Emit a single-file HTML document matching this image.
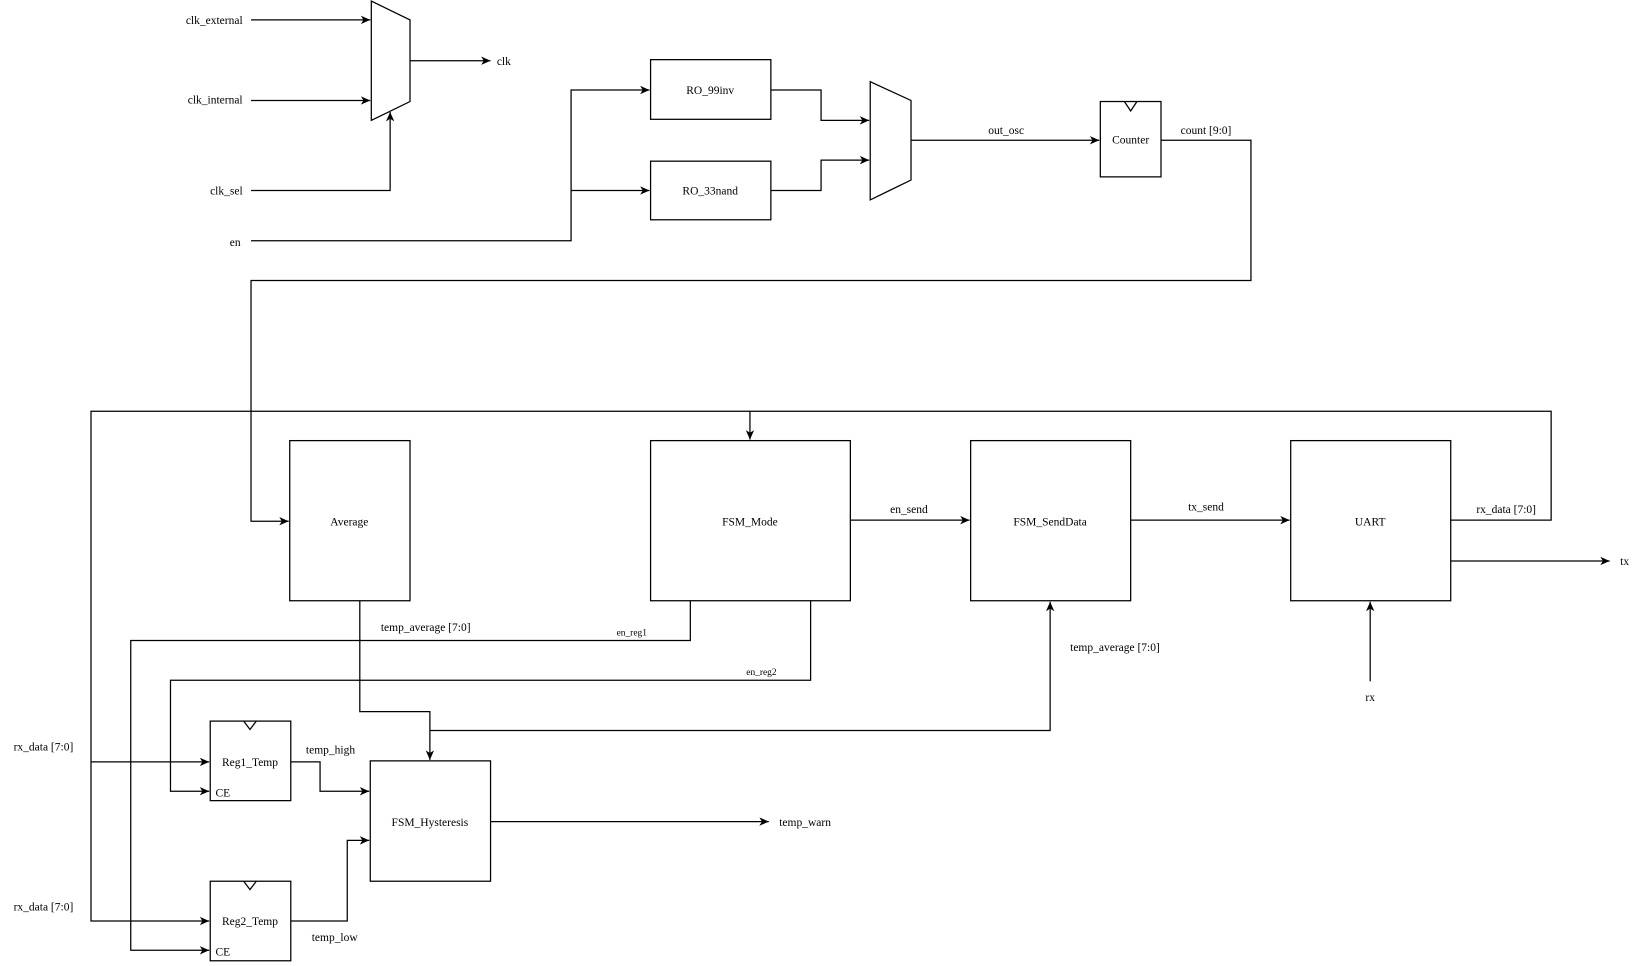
<!DOCTYPE html>
<html><head><meta charset="utf-8"><style>
html,body{margin:0;padding:0;background:#fff;}
svg{display:block;}
text{font-family:"Liberation Serif","Times New Roman",serif;font-size:11px;fill:#000;}
.s{font-size:9px;}
</style></head><body>
<svg width="1639" height="966" viewBox="0 0 1567 923" preserveAspectRatio="none" xmlns="http://www.w3.org/2000/svg">
<defs>
<marker id="a" markerWidth="10" markerHeight="8" refX="9" refY="4" orient="auto" markerUnits="userSpaceOnUse">
<path d="M0,0 L9,4 L0,8 L2.5,4 Z" fill="#000"/></marker>
</defs>
<g fill="none" stroke="#000" stroke-width="1.2">
<polygon points="355,1 392,19 392,97 355,115" fill="#fff"/>
<path d="M240,19H354" marker-end="url(#a)"/>
<path d="M240,96H354" marker-end="url(#a)"/>
<path d="M240,182H373V107" marker-end="url(#a)"/>
<path d="M392,58H469" marker-end="url(#a)"/>
<path d="M240,230H546V86H621" marker-end="url(#a)"/>
<path d="M546,182H621" marker-end="url(#a)"/>
<rect x="622" y="57" width="115" height="57" fill="#fff"/>
<rect x="622" y="154" width="115" height="56" fill="#fff"/>
<path d="M737,86H785V115H831" marker-end="url(#a)"/>
<path d="M737,182H785V153H831" marker-end="url(#a)"/>
<polygon points="832,78 871,96 871,172 832,191" fill="#fff"/>
<path d="M871,134H1051" marker-end="url(#a)"/>
<rect x="1052" y="97" width="58" height="72" fill="#fff"/>
<path d="M1075,97L1081,106L1087,97"/>
<path d="M1110,134H1196V268H240V498H276" marker-end="url(#a)"/>
<path d="M1387,497H1483V393H87V880H200" marker-end="url(#a)"/>
<path d="M717,393V420" marker-end="url(#a)"/>
<path d="M87,728H200" marker-end="url(#a)"/>
<rect x="277" y="421" width="115" height="153" fill="#fff"/>
<rect x="622" y="421" width="191" height="153" fill="#fff"/>
<rect x="928" y="421" width="153" height="153" fill="#fff"/>
<rect x="1234" y="421" width="153" height="153" fill="#fff"/>
<path d="M813,497H927" marker-end="url(#a)"/>
<path d="M1081,497H1233" marker-end="url(#a)"/>
<path d="M1387,536H1539" marker-end="url(#a)"/>
<path d="M1310,651V575" marker-end="url(#a)"/>
<path d="M344,574V680H411V726" marker-end="url(#a)"/>
<path d="M411,698H1004V575" marker-end="url(#a)"/>
<path d="M660,574V612H125V908H200" marker-end="url(#a)"/>
<path d="M775,574V650H163V756H200" marker-end="url(#a)"/>
<rect x="201" y="689" width="77" height="76" fill="#fff"/>
<path d="M233,689L239,697L245,689"/>
<rect x="201" y="842" width="77" height="76" fill="#fff"/>
<path d="M233,842L239,850L245,842"/>
<path d="M278,728H306V756H353" marker-end="url(#a)"/>
<path d="M278,880H332V803H353" marker-end="url(#a)"/>
<rect x="354" y="727" width="115" height="115" fill="#fff"/>
<path d="M469,785H735" marker-end="url(#a)"/>
</g>
<g>
<text x="232" y="23" text-anchor="end">clk_external</text>
<text x="232" y="99" text-anchor="end">clk_internal</text>
<text x="232" y="186" text-anchor="end">clk_sel</text>
<text x="230" y="235" text-anchor="end">en</text>
<text x="475" y="62">clk</text>
<text x="679" y="90" text-anchor="middle">RO_99inv</text>
<text x="679" y="186" text-anchor="middle">RO_33nand</text>
<text x="962" y="128" text-anchor="middle">out_osc</text>
<text x="1081" y="137" text-anchor="middle">Counter</text>
<text x="1153" y="128" text-anchor="middle">count [9:0]</text>
<text x="334" y="502" text-anchor="middle">Average</text>
<text x="717" y="502" text-anchor="middle">FSM_Mode</text>
<text x="1004" y="502" text-anchor="middle">FSM_SendData</text>
<text x="1310" y="502" text-anchor="middle">UART</text>
<text x="869" y="490" text-anchor="middle">en_send</text>
<text x="1153" y="488" text-anchor="middle">tx_send</text>
<text x="1440" y="490" text-anchor="middle">rx_data [7:0]</text>
<text x="1549" y="540">tx</text>
<text x="1310" y="670" text-anchor="middle">rx</text>
<text x="407" y="603" text-anchor="middle">temp_average [7:0]</text>
<text x="1066" y="622" text-anchor="middle">temp_average [7:0]</text>
<text class="s" x="604" y="607" text-anchor="middle">en_reg1</text>
<text class="s" x="728" y="645" text-anchor="middle">en_reg2</text>
<text x="13" y="717">rx_data [7:0]</text>
<text x="13" y="870">rx_data [7:0]</text>
<text x="239" y="732" text-anchor="middle">Reg1_Temp</text>
<text x="206" y="761">CE</text>
<text x="239" y="884" text-anchor="middle">Reg2_Temp</text>
<text x="206" y="913">CE</text>
<text x="316" y="720" text-anchor="middle">temp_high</text>
<text x="320" y="899" text-anchor="middle">temp_low</text>
<text x="411" y="789" text-anchor="middle">FSM_Hysteresis</text>
<text x="745" y="789">temp_warn</text>
</g>
</svg>
</body></html>
